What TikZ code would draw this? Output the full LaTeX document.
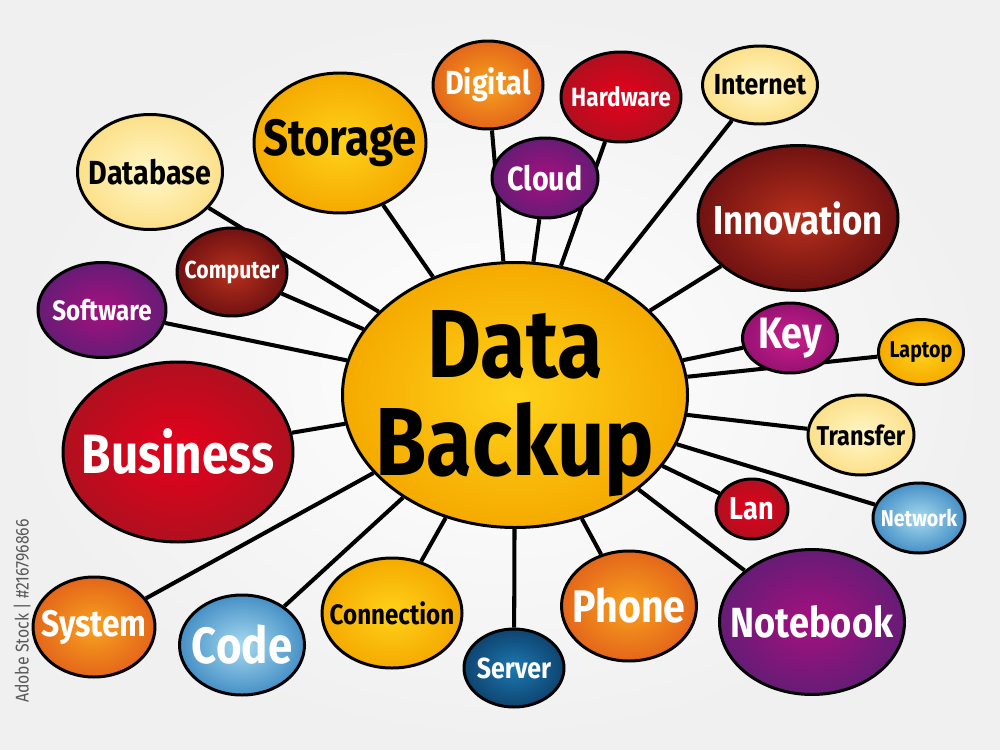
\documentclass[tikz,border=0pt]{standalone}
\usepackage{fontspec}
\setmainfont{Fira Sans}[FakeStretch=0.86]
\usetikzlibrary{shapes.geometric,backgrounds}

\definecolor{goldin}{HTML}{FFD21A}
\definecolor{goldout}{HTML}{F5AA00}
\definecolor{palein}{HTML}{FFF7C8}
\definecolor{paleout}{HTML}{FCE08A}
\definecolor{orangein}{HTML}{F8A21E}
\definecolor{orangeout}{HTML}{E4661A}
\definecolor{redin}{HTML}{E6001C}
\definecolor{redout}{HTML}{B0101F}
\definecolor{brownin}{HTML}{B8301C}
\definecolor{brownout}{HTML}{701212}
\definecolor{purplein}{HTML}{A6107E}
\definecolor{purpleout}{HTML}{661C76}
\definecolor{magentain}{HTML}{CC1E8C}
\definecolor{magentaout}{HTML}{951272}
\definecolor{skyin}{HTML}{A6DAEF}
\definecolor{skyout}{HTML}{4690C6}
\definecolor{navyin}{HTML}{1C78B0}
\definecolor{navyout}{HTML}{0E4470}

% text that does not widen its bubble
\newcommand\lbl[1]{\makebox[0pt]{#1}}

\tikzset{
  bubble/.style={ellipse, draw=black, line width=1.7pt, inner sep=0pt, text=white},
  sz/.style 2 args={minimum width=#1*0.02cm, minimum height=#2*0.02cm},
  fs/.style={font=\bfseries\fontsize{#1}{#1}\selectfont},
  spoke/.style={line width=2.3pt},
  goldb/.style={bubble, inner color=goldin, outer color=goldout, text=black},
  paleb/.style={bubble, inner color=palein, outer color=paleout, text=black},
  orangeb/.style={bubble, inner color=orangein, outer color=orangeout},
  redb/.style={bubble, inner color=redin, outer color=redout},
  brownb/.style={bubble, inner color=brownin, outer color=brownout},
  purpleb/.style={bubble, inner color=purplein, outer color=purpleout},
  magentab/.style={bubble, inner color=magentain, outer color=magentaout},
  skyb/.style={bubble, inner color=skyin, outer color=skyout},
  navyb/.style={bubble, inner color=navyin, outer color=navyout}
}

\begin{document}
\begin{tikzpicture}[x=0.02cm, y=-0.02cm]
  \useasboundingbox (0,0) rectangle (1000,750);

  % centre
  \node[goldb, sz={345}{265}] (backup) at (515,395) {};
  \node[align=center, inner sep=0pt, font=\bfseries\fontsize{55}{56}\selectfont] (backuptext) at (515,404) {Data\\Backup};

  % top
  \node[goldb, sz={172}{140}, fs=29] (storage) at (340,143) {\lbl{Storage}};
  \node[paleb, sz={145}{115}, fs=19] (database) at (150,172) {\lbl{Database}};
  \node[orangeb, sz={110}{88}, fs=19] (digital) at (488,85) {\lbl{Digital}};
  \node[redb, sz={120}{90}, fs=15] (hardware) at (621,97) {\lbl{Hardware}};
  \node[paleb, sz={115}{78}, fs=16.5] (internet) at (760,85) {\lbl{Internet}};
  \node[purpleb, sz={106}{80}, fs=19] (cloud) at (545,178) {\lbl{Cloud}};
  \node[brownb, sz={200}{145}, fs=23] (innovation) at (798,218) {\lbl{Innovation}};

  % left
  \node[brownb, sz={110}{88}, fs=14] (computer) at (232,272) {\lbl{Computer}};
  \node[purpleb, sz={128}{95}, fs=16] (software) at (102,310) {\lbl{Software}};
  \node[redb, sz={230}{180}, fs=31.5] (business) at (178,452) {\lbl{Business}};

  % right
  \node[magentab, sz={95}{70}, fs=25] (key) at (790,338) {\lbl{Key}};
  \node[goldb, sz={85}{65}, fs=13] (laptop) at (921,352) {\lbl{Laptop}};
  \node[paleb, sz={106}{80}, fs=15.5] (transfer) at (861,435) {\lbl{Transfer}};
  \node[redb, sz={72}{60}, fs=18] (lan) at (752,509) {\lbl{Lan}};
  \node[skyb, sz={92}{70}, fs=13] (network) at (919,518) {\lbl{Network}};

  % bottom
  \node[orangeb, sz={122}{100}, fs=21] (system) at (94,627) {\lbl{System}};
  \node[skyb, sz={125}{100}, fs=29] (code) at (242,645) {\lbl{Code}};
  \node[goldb, sz={140}{110}, fs=16] (connection) at (392,613) {\lbl{Connection}};
  \node[navyb, sz={100}{78}, fs=16.5] (server) at (514,668) {\lbl{Server}};
  \node[orangeb, sz={135}{110}, fs=26] (phone) at (629,606) {\lbl{Phone}};
  \node[purpleb, sz={185}{145}, fs=24] (notebook) at (812,622) {\lbl{Notebook}};

  \node[rotate=90, anchor=east, text=gray!70!black, font=\fontsize{10.5}{10.5}\selectfont] (stockid) at (22,513) {Adobe Stock | \#216796866};

  \begin{scope}[on background layer]
    \shade[inner color=white, outer color=gray!12] (0,0) rectangle (1000,750);
    \foreach \n in {storage,database,digital,hardware,internet,cloud,innovation,
                    computer,software,business,key,laptop,transfer,lan,network,
                    system,code,connection,server,phone,notebook}
      \draw[spoke] (backup) -- (\n);
  \end{scope}
\end{tikzpicture}
\end{document}
